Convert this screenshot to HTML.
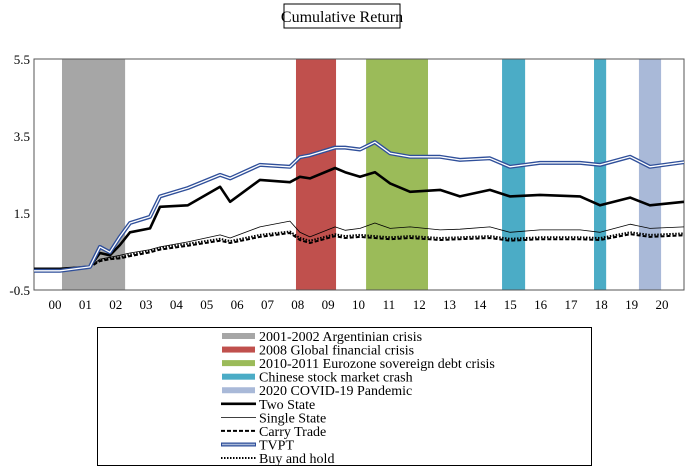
<!DOCTYPE html>
<html><head><meta charset="utf-8"><style>
body{margin:0;background:#fff;width:685px;height:466px;overflow:hidden;font-family:"Liberation Serif",serif}
svg text{font-family:"Liberation Serif",serif}
</style></head><body>
<svg id="chart" width="685" height="466" viewBox="0 0 685 466" xmlns="http://www.w3.org/2000/svg">
<rect x="284" y="4" width="116" height="24" fill="#fff" stroke="#000"/>
<text x="342" y="22" font-size="16" text-anchor="middle">Cumulative Return</text>
<g id="bands"></g>
<g id="axes"></g>
<g id="lines"></g>
<g id="legend"></g>
</svg>
<script>
const times=[-0.19,0.66,1.65,1.98,2.31,2.64,2.97,3.63,3.96,4.88,5.94,6.27,7.25,8.24,8.57,8.90,9.73,10.06,10.55,11.04,11.54,12.20,13.19,13.84,14.83,15.49,16.48,17.80,18.46,19.45,20.10,21.22];
const twoState=[0.05,0.05,0.1,0.46,0.4,0.67,1.0,1.1,1.66,1.7,2.18,1.79,2.36,2.3,2.44,2.4,2.67,2.56,2.44,2.56,2.27,2.05,2.1,1.93,2.1,1.93,1.97,1.93,1.7,1.9,1.7,1.79];
const tvpt=[0.0,0.0,0.1,0.62,0.48,0.88,1.24,1.4,1.93,2.15,2.49,2.4,2.75,2.7,2.95,3.0,3.2,3.2,3.15,3.34,3.05,2.96,2.96,2.88,2.92,2.7,2.8,2.8,2.75,2.96,2.7,2.82];
const singleState=[0.05,0.05,0.1,0.3,0.35,0.4,0.46,0.55,0.62,0.75,0.93,0.85,1.14,1.29,1.0,0.88,1.14,1.05,1.1,1.24,1.1,1.14,1.06,1.08,1.14,1.0,1.06,1.06,1.0,1.21,1.1,1.14];
const carryTrade=[0.05,0.05,0.1,0.25,0.3,0.32,0.38,0.48,0.55,0.65,0.78,0.72,0.88,0.98,0.8,0.72,0.9,0.85,0.88,0.85,0.82,0.85,0.8,0.82,0.85,0.78,0.82,0.82,0.8,0.95,0.88,0.92];
const buyHold=[0.05,0.05,0.1,0.28,0.33,0.35,0.42,0.52,0.6,0.7,0.83,0.77,0.93,1.02,0.85,0.78,0.95,0.9,0.93,0.9,0.87,0.9,0.85,0.87,0.9,0.83,0.87,0.87,0.85,1.0,0.93,0.97];
const bandStart=[0.73,8.44,10.75,15.23,18.26,19.74];
const bandEnd=[2.81,9.76,12.79,15.99,18.66,20.47];
const bandColors=["#a6a6a6","#c0504d","#9bbb59","#4bacc6","#4bacc6","#a9b9d8"];
const yTicks=[-0.5,1.5,3.5,5.5];
const xLabels=["00","01","02","03","04","05","06","07","08","09","10","11","12","13","14","15","16","17","18","19","20"];
const legendLabels=["2001-2002 Argentinian crisis","2008 Global financial crisis","2010-2011 Eurozone sovereign debt crisis","Chinese stock market crash","2020 COVID-19 Pandemic","Two State","Single State","Carry Trade","TVPT","Buy and hold"];

const NS="http://www.w3.org/2000/svg";
const X0=34,X1=684,Y0=59,Y1=290;
function xs(t){return 55+30.35*(t-0.5);}
function ys(v){return Y0+(5.5-v)*(Y1-Y0)/6;}
function mk(tag,attrs,parent){const e=document.createElementNS(NS,tag);for(const k in attrs)e.setAttribute(k,attrs[k]);parent.appendChild(e);return e;}
const bands=document.getElementById('bands'),axes=document.getElementById('axes'),lines=document.getElementById('lines'),legend=document.getElementById('legend');

bandStart.forEach((s,i)=>{
  const r=mk('rect',{x:xs(s),y:Y0,width:xs(bandEnd[i])-xs(s),height:Y1-Y0,fill:bandColors[i]},bands);
  
  
});
let a=mk('rect',{x:X0,y:Y0,width:X1-X0,height:Y1-Y0,fill:'none',stroke:'#555','stroke-width':1},axes);


yTicks.forEach(v=>{
  const t=mk('text',{x:X0-4,y:ys(v)+5,'font-size':13,'text-anchor':'end'},axes);t.textContent=v.toFixed(1);
  
  
});
xLabels.forEach((l,i)=>{
  const t=mk('text',{x:xs(i+0.5),y:Y1+19,'font-size':13,'text-anchor':'middle'},axes);t.textContent=l;
  
  
});
function path(vals){return vals.map((v,i)=>(i?'L':'M')+xs(times[i]).toFixed(1)+' '+ys(v).toFixed(1)).join(' ');}
function series(vals,style,name){
  const p=mk('path',Object.assign({d:path(vals),fill:'none','stroke-linejoin':'round'},style),lines);
  
  
}
series(buyHold,{stroke:'#000','stroke-width':2,'stroke-dasharray':'1.5 1.5'},'buy-and-hold-line');
series(carryTrade,{stroke:'#000','stroke-width':2,'stroke-dasharray':'4 2'},'carry-trade-line');
series(singleState,{stroke:'#000','stroke-width':0.8},'single-state-line');
series(twoState,{stroke:'#000','stroke-width':2.6},'two-state-line');
series(tvpt,{stroke:'#2f4f9a','stroke-width':4},'tvpt-line-outer');
series(tvpt,{stroke:'#fff','stroke-width':1.3},'tvpt-line-inner');

let lb=mk('rect',{x:97.5,y:327.5,width:494,height:138,fill:'#fff',stroke:'#000'},legend);


legendLabels.forEach((l,i)=>{
  const y=336+i*13.56;
  if(i<5){
    const r=mk('rect',{x:222,y:y-3,width:33,height:6,fill:bandColors[i===4?5:i]},legend);
    
    
  } else {
    const st=[{stroke:'#000','stroke-width':2.6},{stroke:'#000','stroke-width':0.8},{stroke:'#000','stroke-width':2,'stroke-dasharray':'4 2'},{stroke:'#2f4f9a','stroke-width':4},{stroke:'#000','stroke-width':2,'stroke-dasharray':'1.5 1.5'}][i-5];
    const ln=mk('line',Object.assign({x1:221,x2:256,y1:y,y2:y},st),legend);
    
    
    if(i===8){const w=mk('line',{x1:222,x2:255,y1:y,y2:y,stroke:'#a9b9d8','stroke-width':1.5},legend);
      
      }
  }
  const t=mk('text',{x:259,y:y+5,'font-size':14},legend);t.textContent=l;
  
  
});
</script>
</body></html>
